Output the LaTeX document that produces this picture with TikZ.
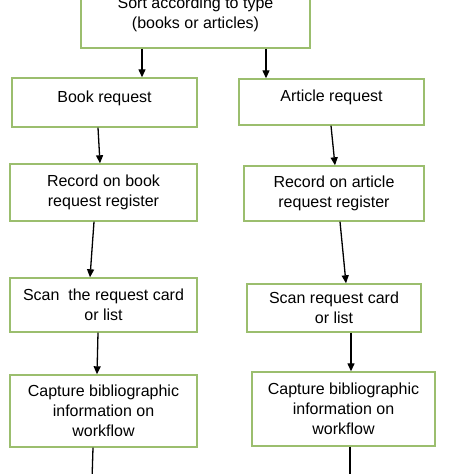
\documentclass[tikz,border=0pt]{standalone}
\usepackage{fontspec}
\setmainfont{Liberation Sans}
\usetikzlibrary{arrows.meta}

\tikzset{
    stepbox/.style={draw=boxgreen, line width=1.4pt, inner sep=0pt, align=center,
                    font=\fontsize{16}{20}\selectfont},
    flow/.style={-{Triangle[length=8pt,width=7pt]}, line width=1.3pt, black}
}
\definecolor{boxgreen}{RGB}{155,190,110}

\begin{document}
\begin{tikzpicture}[x=1pt,y=-1pt]
        \useasboundingbox (0,0) rectangle (474,474);
        \clip (0,0) rectangle (474,474);

        % left column: books
        \node[stepbox, minimum width=229pt, minimum height=68pt] (sort) at (195.5,14) {Sort according to type\\(books or articles)};
        \node[stepbox, minimum width=185pt, minimum height=49pt, text depth=12pt] (book) at (104.5,102.5) {Book request};
        \node[stepbox, minimum width=187pt, minimum height=57pt] (recbook) at (103.5,192.5) {Record on book\\request register};
        \node[stepbox, minimum width=187pt, minimum height=54pt] (scanbook) at (103.5,305) {Scan\ \ the request card\\or list};
        \node[stepbox, minimum width=187pt, minimum height=72pt] (capbook) at (103.5,411) {Capture bibliographic\\information on\\workflow};

        % right column: articles
        \node[stepbox, minimum width=185pt, minimum height=46pt, text depth=12pt] (article) at (331.5,102) {Article request};
        \node[stepbox, minimum width=180pt, minimum height=55pt] (recart) at (334,193.5) {Record on article\\request register};
        \node[stepbox, minimum width=174pt, minimum height=48pt] (scanart) at (334,308) {Scan request card\\or list};
        \node[stepbox, minimum width=183pt, minimum height=74pt] (capart) at (343.5,409) {Capture bibliographic\\information on\\workflow};

        \coordinate (bookend) at (92,480);
        \coordinate (artend) at (350,480);

        \draw[flow] ([xshift=-53.5pt]sort.south) -- ([xshift=37.5pt]book.north);
        \draw[flow] ([xshift=70.5pt]sort.south) -- ([xshift=-65.5pt]article.north);
        \draw[flow] ([xshift=-6.5pt]book.south) -- ([xshift=-3.5pt]recbook.north);
        \draw[flow] ([xshift=-0.5pt]article.south) -- ([xshift=1pt]recart.north);
        \draw[flow] ([xshift=-9.5pt]recbook.south) -- ([xshift=-13.5pt]scanbook.north);
        \draw[flow] ([xshift=6pt]recart.south) -- ([xshift=12pt]scanart.north);
        \draw[flow] ([xshift=-5.5pt]scanbook.south) -- ([xshift=-6.5pt]capbook.north);
        \draw[flow] ([xshift=17pt]scanart.south) -- ([xshift=7.5pt]capart.north);
        \draw[line width=1.3pt] ([xshift=-10.5pt]capbook.south) -- (bookend);
        \draw[line width=1.3pt] ([xshift=6.5pt]capart.south) -- (artend);

    \end{tikzpicture}
\end{document}
